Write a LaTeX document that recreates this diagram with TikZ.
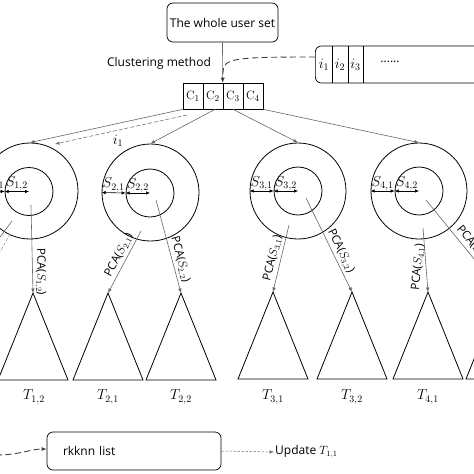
\documentclass[tikz,border=0pt]{standalone}
\usepackage[no-math]{fontspec}
\setmainfont{Open Sans}
\usetikzlibrary{arrows.meta}
\tikzset{
  conn/.style={draw=black!60, line width=0.6pt, -{Latex[length=4.5pt,width=3.5pt]}},
  dashconn/.style={draw=black!75, line width=0.9pt, dash pattern=on 6pt off 3.5pt, -{Latex[length=5pt,width=4pt]}},
  thindash/.style={draw=black!55, line width=0.5pt, dash pattern=on 2.5pt off 1.5pt, -{Latex[length=4.5pt,width=3.5pt]}},
  ring/.style={circle, draw=black, line width=0.8pt, inner sep=0pt},
  tri/.style={draw=black, line width=0.8pt, line join=miter},
  dim/.style={{Latex[length=4pt,width=3.5pt]}-{Latex[length=4pt,width=3.5pt]}, line width=0.6pt},
  rbox/.style={draw=black, line width=0.7pt, rounded corners=6pt},
  cell/.style={draw=black, line width=0.7pt, minimum width=20pt, minimum height=26pt, inner sep=0pt, font=\fontsize{13}{15}\selectfont},
  txt/.style={font=\fontsize{12}{14}\selectfont, inner sep=1pt},
  mlab/.style={font=\fontsize{14}{16}\selectfont, inner sep=0.5pt},
  pca/.style={font=\fontsize{11.5}{13}\selectfont, inner sep=1.5pt, sloped, above},
}
\begin{document}
\begin{tikzpicture}[x=1pt,y=-1pt]
\useasboundingbox (0,0) rectangle (474,474);
\clip (0,0) rectangle (474,474);

% top box
\node[rbox, txt, minimum width=111pt, minimum height=39pt] (whole) at (222.5,22.5) {The whole user set};
\node[txt] (clus) at (159,63) {Clustering method};

% cluster cells
\node[cell] (c1) at (193,96) {$\mathrm{C}_1$};
\node[cell] (c2) at (213,96) {$\mathrm{C}_2$};
\node[cell] (c3) at (233,96) {$\mathrm{C}_3$};
\node[cell] (c4) at (253,96) {$\mathrm{C}_4$};

% item box (cut at right)
\node[rbox, minimum width=230pt, minimum height=37pt, anchor=west] (ibox) at (315,64.5) {};
\draw[line width=0.7pt] (332,46) -- (332,83) (348,46) -- (348,83) (363,46) -- (363,83);
\node[mlab] (i1) at (324,65) {$i_1$};
\node[mlab] (i2) at (340,65) {$i_2$};
\node[mlab] (i3) at (355.5,65) {$i_3$};
\node[txt] (dots) at (390,62) {......};

% arrows into C box
\draw[conn] (whole.south) -- (c3.north west);
\draw[dashconn] ([yshift=7.5pt]ibox.west) .. controls (236,57) and (223,58) .. (223,72) -- (c3.north west);

% circles
\node[ring, minimum size=96pt] (o1) at (30,191) {};
\node[ring, minimum size=48pt] (n1) at (29,191.5) {};
\node[ring, minimum size=97pt] (o2) at (150.5,192.5) {};
\node[ring, minimum size=48pt] (n2) at (150,193) {};
\node[ring, minimum size=96pt] (o3) at (298,191) {};
\node[ring, minimum size=48pt] (n3) at (298,191) {};
\node[ring, minimum size=96pt] (o4) at (419,191) {};
\node[ring, minimum size=48pt] (n4) at (419,191) {};

% from clusters to circles
\draw[conn] (c1.south west) -- (o1.north);
\coordinate (ds) at (187,115);
\coordinate (de) at (55,144);
\draw[draw=black!55, line width=0.6pt, dash pattern=on 4pt off 2pt, -{Latex[length=4.5pt,width=3.5pt]}] (ds) -- (de);
\node[mlab] (ilab) at (118,141) {$i_1$};
\draw[conn] ([xshift=2pt]c2.south) -- (o2.north);
\draw[conn] (c3.south) -- (o3.north);
\draw[conn] (c4.south east) -- (o4.north);

% radius annotations
\draw[dim] (o1.west) -- node[above, mlab] {$S_{1,1}$} (n1.west);
\draw[dim] (n1.west) -- node[above, mlab] {$S_{1,2}$} (n1.center);
\draw[dim] (o2.west) -- node[above, mlab] {$S_{2,1}$} (n2.west);
\draw[dim] (n2.west) -- node[above, mlab] {$S_{2,2}$} (n2.center);
\draw[dim] (o3.west) -- node[above, mlab] {$S_{3,1}$} (n3.west);
\draw[dim] (n3.west) -- node[above, mlab] {$S_{3,2}$} (n3.center);
\draw[dim] (o4.west) -- node[above, mlab] {$S_{4,1}$} (n4.west);
\draw[dim] (n4.west) -- node[above, mlab] {$S_{4,2}$} (n4.center);

% tree apexes
\coordinate (t11) at (-42,293);
\coordinate (t12) at (33,293);
\coordinate (t21) at (108,293);
\coordinate (t22) at (181,293);
\coordinate (t31) at (273,292);
\coordinate (t32) at (352,292);
\coordinate (t41) at (428,292);
\coordinate (t42) at (501,292);
\foreach \t in {t11,t12,t21,t22,t31,t32,t41,t42}{
  \draw[tri] (\t) -- ++(-35,87) -- ++(70,0) -- cycle;
}

% PCA start points
\coordinate (p11) at (12,221);
\coordinate (p12) at (31,205);
\coordinate (p21) at (141,231);
\coordinate (p22) at (156,200);
\coordinate (p31) at (289,225);
\coordinate (p32) at (306,198);
\coordinate (p41) at (423,228);
\coordinate (p42) at (426,200);

\draw[conn] (p11) -- (t11);
\coordinate (q1) at (10,234);
\coordinate (q2) at (0,252);
\draw[draw=black!45, line width=0.5pt, dash pattern=on 3pt off 2pt] (q1) -- (q2);
\draw[conn] (p12) -- node[pca, pos=0.76] {PCA($S_{1,2}$)} (t12);
\draw[conn] (p21) -- node[pca, pos=0.45] {PCA($S_{2,1}$)} (t21);
\draw[conn] (p22) -- node[pca, pos=0.66] {PCA($S_{2,2}$)} (t22);
\draw[conn] (p31) -- node[pca, pos=0.52] {PCA($S_{3,1}$)} (t31);
\draw[conn] (p32) -- node[pca, pos=0.6] {PCA($S_{3,2}$)} (t32);
\draw[conn] (p41) -- node[font=\fontsize{11.5}{13}\selectfont, inner sep=1.5pt, pos=0.62, rotate=85, anchor=south] {PCA($S_{4,1}$)} (t41);
\draw[conn] (p42) -- node[pca, pos=0.55] {PCA($S_{4,2}$)} (t42);

% tree labels
\node[mlab] (l12) at (34,397) {$T_{1,2}$};
\node[mlab] (l21) at (108,397) {$T_{2,1}$};
\node[mlab] (l22) at (181,397) {$T_{2,2}$};
\node[mlab] (l31) at (273,397) {$T_{3,1}$};
\node[mlab] (l32) at (352,397) {$T_{3,2}$};
\node[mlab] (l41) at (428,397) {$T_{4,1}$};

% bottom
\node[rbox, txt, minimum width=174pt, minimum height=38pt, text width=142pt, align=left] (rk) at (134,451) {rkknn list};
\coordinate (rin) at (-4,455);
\draw[dashconn] (rin) .. controls (20,455) and (30,449) .. ([yshift=2pt]rk.west);
\node[txt, anchor=west] (upd) at (274,452) {Update $T_{1,1}$};
\draw[thindash] (rk.east) -- (upd.west);
\end{tikzpicture}
\end{document}
